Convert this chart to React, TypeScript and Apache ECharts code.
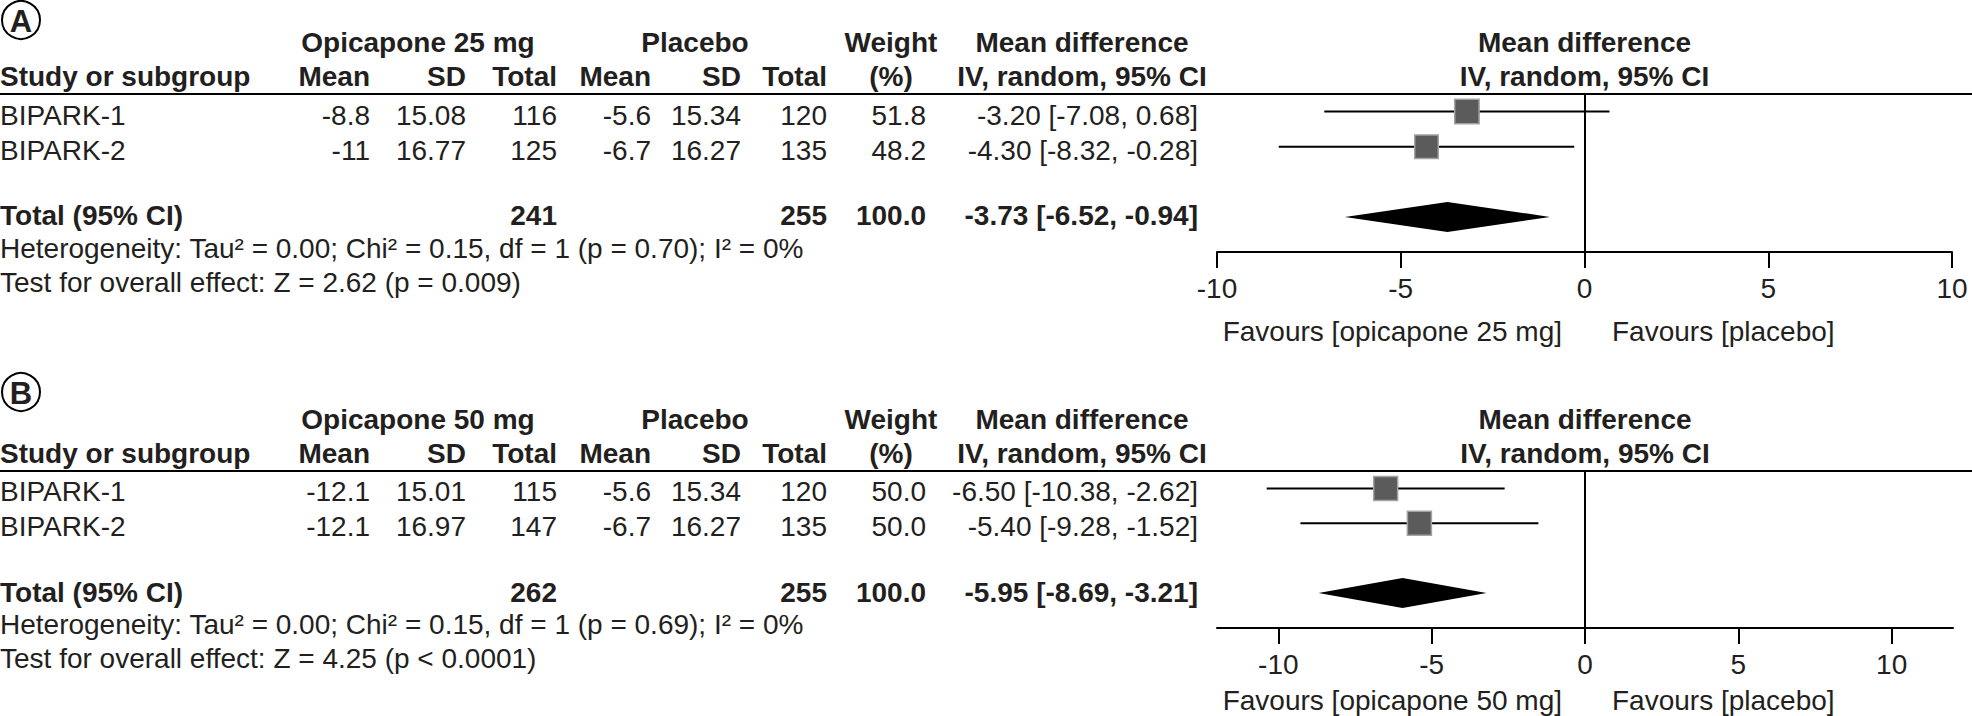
import React, { useEffect, useRef } from 'react';
import * as echarts from 'echarts';

const FONT = '"Liberation Sans", Arial, Helvetica, sans-serif';
const TEXT = '#231f20';

// ---------- Panel A data ----------
const studiesA = ['BIPARK-1', 'BIPARK-2'];
const opi25Mean = [-8.8, -11];
const opi25SD = [15.08, 16.77];
const opi25Total = [116, 125];
const placeboMeanA = [-5.6, -6.7];
const placeboSDA = [15.34, 16.27];
const placeboTotalA = [120, 135];
const weightA = [51.8, 48.2];
const mdA = [-3.2, -4.3];
const mdLowA = [-7.08, -8.32];
const mdHighA = [0.68, -0.28];
const totalNA = [241, 255];
const pooledA = [-3.73, -6.52, -0.94]; // estimate, low, high
const hetA = 'Heterogeneity: Tau² = 0.00; Chi² = 0.15, df = 1 (p = 0.70); I² = 0%';
const effectA = 'Test for overall effect: Z = 2.62 (p = 0.009)';
const favoursA = ['Favours [opicapone 25 mg]', 'Favours [placebo]'];
const ticksA = [-10, -5, 0, 5, 10];

// ---------- Panel B data ----------
const studiesB = ['BIPARK-1', 'BIPARK-2'];
const opi50Mean = [-12.1, -12.1];
const opi50SD = [15.01, 16.97];
const opi50Total = [115, 147];
const placeboMeanB = [-5.6, -6.7];
const placeboSDB = [15.34, 16.27];
const placeboTotalB = [120, 135];
const weightB = [50.0, 50.0];
const mdB = [-6.5, -5.4];
const mdLowB = [-10.38, -9.28];
const mdHighB = [-2.62, -1.52];
const totalNB = [262, 255];
const pooledB = [-5.95, -8.69, -3.21];
const hetB = 'Heterogeneity: Tau² = 0.00; Chi² = 0.15, df = 1 (p = 0.69); I² = 0%';
const effectB = 'Test for overall effect: Z = 4.25 (p < 0.0001)';
const favoursB = ['Favours [opicapone 50 mg]', 'Favours [placebo]'];
const ticksB = [-10, -5, 0, 5, 10];

const totalWeight = 100.0;

const panels = [
  {
    label: 'A', group: 'Opicapone 25 mg', studies: studiesA,
    m1: opi25Mean, sd1: opi25SD, n1: opi25Total,
    m2: placeboMeanA, sd2: placeboSDA, n2: placeboTotalA,
    w: weightA, md: mdA, lo: mdLowA, hi: mdHighA,
    totalN: totalNA, pooled: pooledA, het: hetA, effect: effectA,
    favours: favoursA, min: -10, max: 10, ticks: ticksA,
  },
  {
    label: 'B', group: 'Opicapone 50 mg', studies: studiesB,
    m1: opi50Mean, sd1: opi50SD, n1: opi50Total,
    m2: placeboMeanB, sd2: placeboSDB, n2: placeboTotalB,
    w: weightB, md: mdB, lo: mdLowB, hi: mdHighB,
    totalN: totalNB, pooled: pooledB, het: hetB, effect: effectB,
    favours: favoursB, min: -12, max: 12, ticks: ticksB,
  },
];

// ---------- layout ----------
const W = 1972;
const H = 716;
const PLOT_LEFT = 1217;
const LAYOUT = [
  { top: 94, height: 158, width: 735, circleY: 20, favoursY: 331 },
  { top: 471, height: 157, width: 736, circleY: 392, favoursY: 700 },
];
const COL = {
  study: 0, mean1: 370, sd1: 466, n1: 557, mean2: 651, sd2: 741, n2: 827,
  weight: 926, weightHead: 891, md: 1198, mdHead: 1082, group1: 418, group2: 695,
};
const FS = 28;

type Cell = { text: string; x?: number; align: string; bold?: boolean; atZero?: boolean };
type Row = { pos: number; cells: Cell[] };

const fmtMD = (e: number, l: number, h: number) => `${e.toFixed(2)} [${l.toFixed(2)}, ${h.toFixed(2)}]`;

function tableRows(p: any): Row[] {
  const rows: Row[] = [];
  rows.push({
    pos: -1.98,
    cells: [
      { text: p.group, x: COL.group1, align: 'center', bold: true },
      { text: 'Placebo', x: COL.group2, align: 'center', bold: true },
      { text: 'Weight', x: COL.weightHead, align: 'center', bold: true },
      { text: 'Mean difference', x: COL.mdHead, align: 'center', bold: true },
      { text: 'Mean difference', align: 'center', bold: true, atZero: true },
    ],
  });
  rows.push({
    pos: -1.0,
    cells: [
      { text: 'Study or subgroup', x: COL.study, align: 'left', bold: true },
      { text: 'Mean', x: COL.mean1, align: 'right', bold: true },
      { text: 'SD', x: COL.sd1, align: 'right', bold: true },
      { text: 'Total', x: COL.n1, align: 'right', bold: true },
      { text: 'Mean', x: COL.mean2, align: 'right', bold: true },
      { text: 'SD', x: COL.sd2, align: 'right', bold: true },
      { text: 'Total', x: COL.n2, align: 'right', bold: true },
      { text: '(%)', x: COL.weightHead, align: 'center', bold: true },
      { text: 'IV, random, 95% CI', x: COL.mdHead, align: 'center', bold: true },
      { text: 'IV, random, 95% CI', align: 'center', bold: true, atZero: true },
    ],
  });
  p.studies.forEach((s: string, i: number) => {
    rows.push({
      pos: i + 0.1,
      cells: [
        { text: s, x: COL.study, align: 'left' },
        { text: String(p.m1[i]), x: COL.mean1, align: 'right' },
        { text: String(p.sd1[i]), x: COL.sd1, align: 'right' },
        { text: String(p.n1[i]), x: COL.n1, align: 'right' },
        { text: String(p.m2[i]), x: COL.mean2, align: 'right' },
        { text: String(p.sd2[i]), x: COL.sd2, align: 'right' },
        { text: String(p.n2[i]), x: COL.n2, align: 'right' },
        { text: p.w[i].toFixed(1), x: COL.weight, align: 'right' },
        { text: fmtMD(p.md[i], p.lo[i], p.hi[i]), x: COL.md, align: 'right' },
      ],
    });
  });
  const tp = p.studies.length + 1;
  rows.push({
    pos: tp - 0.03,
    cells: [
      { text: 'Total (95% CI)', x: COL.study, align: 'left', bold: true },
      { text: String(p.totalN[0]), x: COL.n1, align: 'right', bold: true },
      { text: String(p.totalN[1]), x: COL.n2, align: 'right', bold: true },
      { text: totalWeight.toFixed(1), x: COL.weight, align: 'right', bold: true },
      { text: fmtMD(p.pooled[0], p.pooled[1], p.pooled[2]), x: COL.md, align: 'right', bold: true },
    ],
  });
  rows.push({ pos: tp + 0.91, cells: [{ text: p.het, x: COL.study, align: 'left' }] });
  rows.push({ pos: tp + 1.88, cells: [{ text: p.effect, x: COL.study, align: 'left' }] });
  return rows;
}

function buildOption() {
  const grid: any[] = [];
  const xAxis: any[] = [];
  const yAxis: any[] = [];
  const series: any[] = [];
  const graphic: any[] = [];

  panels.forEach((p, gi) => {
    const L = LAYOUT[gi];
    const nStudies = p.studies.length;
    const totalPos = nStudies + 1;
    grid.push({ left: PLOT_LEFT, top: L.top, width: L.width, height: L.height, containLabel: false });
    xAxis.push({
      gridIndex: gi, type: 'value', min: p.min, max: p.max, position: 'bottom',
      ...(p.min % 5 === 0 ? { interval: 5 } : {}),
      axisLine: { show: true, onZero: false, lineStyle: { color: '#000', width: 2 } },
      axisTick: { show: true, inside: false, length: 16, lineStyle: { color: '#000', width: 2 }, customValues: p.ticks },
      axisLabel: { show: true, fontSize: FS, fontFamily: FONT, color: TEXT, margin: 22, customValues: p.ticks },
      splitLine: { show: false },
    });
    yAxis.push({ gridIndex: gi, type: 'value', inverse: true, min: -0.5, max: totalPos + 1, show: false });

    // zero line
    series.push({
      type: 'line', xAxisIndex: gi, yAxisIndex: gi, data: [], silent: true,
      markLine: {
        silent: true, symbol: ['none', 'none'], label: { show: false },
        lineStyle: { color: '#000', width: 2, type: 'solid' },
        data: [{ xAxis: 0 }],
      },
    });

    // study CI lines + squares
    series.push({
      type: 'custom', name: 'studies' + p.label, xAxisIndex: gi, yAxisIndex: gi, clip: false, silent: true,
      data: p.studies.map((_, i) => [i, p.lo[i], p.hi[i], p.md[i], p.w[i]]),
      encode: { x: [1, 2, 3], y: 0 },
      renderItem: (params: any, api: any) => {
        const row = api.value(0);
        const a = api.coord([api.value(1), row]);
        const b = api.coord([api.value(2), row]);
        const c = api.coord([api.value(3), row]);
        const s = 24 * Math.sqrt(api.value(4) / 50);
        return {
          type: 'group',
          children: [
            { type: 'line', shape: { x1: a[0], y1: a[1], x2: b[0], y2: b[1] }, style: { stroke: '#000', lineWidth: 2 } },
            { type: 'rect', shape: { x: c[0] - s / 2, y: c[1] - s / 2, width: s, height: s }, style: { fill: '#5b5b5b', stroke: '#a3a3a3', lineWidth: 1.5 } },
          ],
        };
      },
    });

    // pooled diamond
    series.push({
      type: 'custom', name: 'pooled' + p.label, xAxisIndex: gi, yAxisIndex: gi, clip: false, silent: true,
      data: [[totalPos, p.pooled[1], p.pooled[2], p.pooled[0]]],
      encode: { x: [1, 2, 3], y: 0 },
      renderItem: (params: any, api: any) => {
        const row = api.value(0);
        const l = api.coord([api.value(1), row]);
        const r = api.coord([api.value(2), row]);
        const c = api.coord([api.value(3), row]);
        const h = 15;
        return {
          type: 'polygon',
          shape: { points: [[l[0], l[1]], [c[0], c[1] - h], [r[0], r[1]], [c[0], c[1] + h]] },
          style: { fill: '#000' },
        };
      },
    });

    // table text
    const rows = tableRows(p);
    series.push({
      type: 'custom', name: 'table' + p.label, xAxisIndex: gi, yAxisIndex: gi, clip: false, silent: true,
      data: rows.map((r, i) => [0, r.pos, i]),
      encode: { x: 0, y: 1 },
      renderItem: (params: any, api: any) => {
        const r = rows[api.value(2)];
        const y = api.coord([0, api.value(1)])[1];
        const zx = api.coord([0, 0])[0];
        return {
          type: 'group',
          children: r.cells.map((c) => ({
            type: 'text',
            style: {
              x: c.atZero ? zx : c.x, y, text: c.text, align: c.align, verticalAlign: 'middle',
              fill: TEXT, fontSize: FS, fontWeight: c.bold ? 'bold' : 'normal', fontFamily: FONT,
            },
          })),
        };
      },
    });

    // header rule
    graphic.push({
      type: 'line', shape: { x1: 0, y1: L.top, x2: W, y2: L.top },
      style: { stroke: '#000', lineWidth: 2 }, silent: true,
    });
    // circled panel letter
    graphic.push({
      type: 'circle', shape: { cx: 21, cy: L.circleY, r: 19 },
      style: { fill: 'none', stroke: '#000', lineWidth: 2 }, silent: true,
    });
    graphic.push({
      type: 'text', x: 21, y: L.circleY + 1,
      style: { text: p.label, align: 'center', verticalAlign: 'middle', fontSize: 31, fontWeight: 'bold', fontFamily: FONT, fill: TEXT },
      silent: true,
    });
    // favours labels
    graphic.push({
      type: 'text', x: 1562, y: L.favoursY,
      style: { text: p.favours[0], align: 'right', verticalAlign: 'middle', fontSize: FS, fontFamily: FONT, fill: TEXT },
      silent: true,
    });
    graphic.push({
      type: 'text', x: 1612, y: L.favoursY,
      style: { text: p.favours[1], align: 'left', verticalAlign: 'middle', fontSize: FS, fontFamily: FONT, fill: TEXT },
      silent: true,
    });
  });

  return {
    animation: false,
    backgroundColor: '#ffffff',
    textStyle: { fontFamily: FONT },
    grid, xAxis, yAxis, series, graphic,
  };
}

export default function App() {
  const ref = useRef<HTMLDivElement>(null);
  useEffect(() => {
    document.body.style.margin = '0';
    const chart = echarts.init(ref.current as HTMLDivElement, null, { renderer: 'svg' });
    chart.setOption(buildOption() as any);
    return () => chart.dispose();
  }, []);
  return (
    <div
      ref={ref}
      style={{ width: W, height: H, position: 'absolute', left: 0, top: 0, background: '#fff' }}
    />
  );
}
